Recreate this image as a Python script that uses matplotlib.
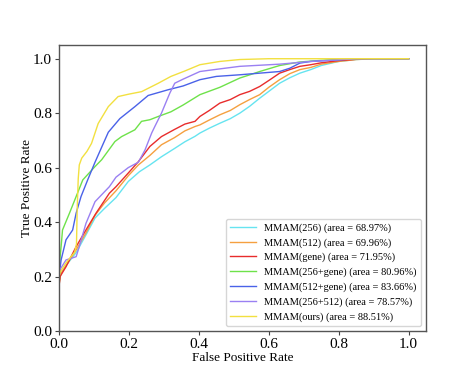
import numpy as np
import matplotlib
matplotlib.use("Agg")
import matplotlib.pyplot as plt

plt.rcParams['font.family'] = ['Liberation Serif', 'DejaVu Serif']

# ROC curves
fpr_256 = [0, 0.005, 0.02, 0.05, 0.08, 0.103, 0.13, 0.163, 0.198, 0.23, 0.26, 0.293, 0.33, 0.36, 0.389, 0.403,
           0.43, 0.46, 0.49, 0.517, 0.545, 0.574, 0.6, 0.631, 0.66, 0.689, 0.72, 0.75, 0.8, 0.85, 0.9, 1.0]
tpr_256 = [0.18, 0.21, 0.24, 0.29, 0.36, 0.415, 0.45, 0.49, 0.549, 0.585, 0.61, 0.64, 0.67, 0.695, 0.715, 0.727,
           0.745, 0.763, 0.78, 0.80, 0.825, 0.855, 0.88, 0.91, 0.93, 0.947, 0.96, 0.975, 0.99, 0.997, 1.0, 1.0]

fpr_512 = [0, 0.005, 0.02, 0.05, 0.077, 0.103, 0.13, 0.163, 0.198, 0.227, 0.26, 0.293, 0.33, 0.36, 0.389, 0.403,
           0.43, 0.46, 0.49, 0.517, 0.545, 0.574, 0.6, 0.631, 0.66, 0.689, 0.72, 0.75, 0.8, 0.85, 0.9, 1.0]
tpr_512 = [0.17, 0.21, 0.24, 0.30, 0.36, 0.425, 0.47, 0.515, 0.57, 0.61, 0.645, 0.684, 0.71, 0.735, 0.751, 0.757,
           0.775, 0.794, 0.81, 0.831, 0.85, 0.868, 0.895, 0.923, 0.945, 0.96, 0.968, 0.98, 0.99, 0.997, 1.0, 1.0]

fpr_gene = [0, 0.003, 0.02, 0.049, 0.077, 0.106, 0.144, 0.163, 0.198, 0.227, 0.26, 0.293, 0.33, 0.36, 0.389, 0.403,
            0.43, 0.46, 0.49, 0.517, 0.545, 0.574, 0.6, 0.631, 0.66, 0.689, 0.72, 0.75, 0.8, 0.85, 0.9, 1.0]
tpr_gene = [0.163, 0.2, 0.236, 0.31, 0.371, 0.433, 0.506, 0.53, 0.58, 0.622, 0.678, 0.714, 0.74, 0.76, 0.77, 0.788,
            0.81, 0.837, 0.85, 0.868, 0.88, 0.898, 0.92, 0.947, 0.96, 0.972, 0.978, 0.985, 0.993, 0.998, 1.0, 1.0]

fpr_256g = [0, 0.003, 0.006, 0.01, 0.03, 0.049, 0.068, 0.103, 0.122, 0.16, 0.179, 0.217, 0.236, 0.26, 0.284, 0.32,
            0.355, 0.403, 0.46, 0.517, 0.546, 0.574, 0.631, 0.689, 0.75, 0.8, 0.85, 0.9, 1.0]
tpr_256g = [0.2, 0.27, 0.31, 0.371, 0.433, 0.494, 0.555, 0.604, 0.629, 0.696, 0.714, 0.739, 0.77, 0.776, 0.788, 0.805,
            0.83, 0.868, 0.895, 0.929, 0.941, 0.953, 0.975, 0.988, 0.994, 0.997, 1.0, 1.0, 1.0]

fpr_512g = [0, 0.003, 0.006, 0.02, 0.039, 0.049, 0.063, 0.082, 0.103, 0.141, 0.174, 0.217, 0.255, 0.312, 0.355,
            0.403, 0.45, 0.517, 0.574, 0.631, 0.66, 0.689, 0.72, 0.8, 0.85, 0.9, 1.0]
tpr_512g = [0.2, 0.23, 0.261, 0.335, 0.371, 0.433, 0.494, 0.555, 0.62, 0.73, 0.78, 0.824, 0.865, 0.886, 0.9,
            0.923, 0.935, 0.941, 0.947, 0.953, 0.965, 0.984, 0.99, 0.996, 1.0, 1.0, 1.0]

fpr_256_512 = [0, 0.005, 0.02, 0.049, 0.058, 0.077, 0.103, 0.144, 0.163, 0.198, 0.227, 0.246, 0.265, 0.274, 0.293,
               0.317, 0.331, 0.355, 0.403, 0.45, 0.517, 0.631, 0.72, 0.8, 0.85, 0.9, 1.0]
tpr_256_512 = [0.2, 0.23, 0.261, 0.273, 0.31, 0.395, 0.475, 0.53, 0.565, 0.6, 0.62, 0.665, 0.727, 0.751, 0.80,
               0.874, 0.91, 0.925, 0.953, 0.961, 0.972, 0.98, 0.99, 0.996, 1.0, 1.0, 1.0]

fpr_ours = [0, 0.005, 0.02, 0.045, 0.05, 0.052, 0.055, 0.058, 0.065, 0.08, 0.093, 0.112, 0.141, 0.169, 0.2, 0.236,
            0.284, 0.32, 0.36, 0.403, 0.46, 0.517, 0.6, 0.7, 1.0]
tpr_ours = [0.2, 0.22, 0.25, 0.29, 0.32, 0.45, 0.56, 0.61, 0.635, 0.66, 0.689, 0.762, 0.824, 0.861, 0.87, 0.879,
            0.91, 0.935, 0.955, 0.978, 0.99, 0.997, 1.0, 1.0, 1.0]

labels = ['MMAM(256)', 'MMAM(512)', 'MMAM(gene)', 'MMAM(256+gene)',
          'MMAM(512+gene)', 'MMAM(256+512)', 'MMAM(ours)']
aucs = [68.97, 69.96, 71.95, 80.96, 83.66, 78.57, 88.51]
colors = ['#66e4f0', '#f5a040', '#e82c2c', '#6ee24a', '#4a62e8', '#9a80f2', '#f2e040']

curves = [(fpr_256, tpr_256), (fpr_512, tpr_512), (fpr_gene, tpr_gene), (fpr_256g, tpr_256g),
          (fpr_512g, tpr_512g), (fpr_256_512, tpr_256_512), (fpr_ours, tpr_ours)]

fig = plt.figure(figsize=(4.74, 3.79), dpi=100)
ax = fig.add_axes([0.1245, 0.1266, 0.7745, 0.7544])

for (f, t), lab, auc, c in zip(curves, labels, aucs, colors):
    ax.plot(f, t, color=c, lw=1.0, label='%s (area = %.2f%%)' % (lab, auc))

ax.set_xlim(0, 1.05)
ax.set_ylim(0, 1.05)
ax.set_xticks(np.arange(0, 1.01, 0.2))
ax.set_yticks(np.arange(0, 1.01, 0.2))
ax.tick_params(labelsize=11, length=3, pad=2, color='#444444')
for s in ax.spines.values():
    s.set_color('#555555')
    s.set_linewidth(1.0)

ax.set_xlabel('False Positive Rate', fontsize=9.5, labelpad=1)
ax.set_ylabel('True Positive Rate', fontsize=9.5, labelpad=0)
ax.legend(loc='lower right', fontsize=7.5, handlelength=2.5)

plt.savefig('out.png', dpi=100)
